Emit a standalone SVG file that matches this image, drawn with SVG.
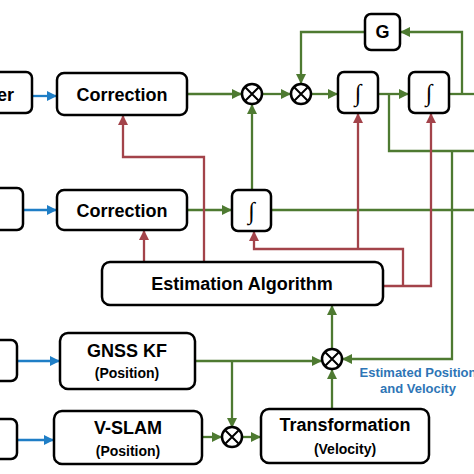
<svg xmlns="http://www.w3.org/2000/svg" width="474" height="474" viewBox="0 0 474 474">
<defs>
<marker id="ag" markerWidth="10" markerHeight="10" refX="9" refY="5" orient="auto" markerUnits="userSpaceOnUse"><path d="M0,0 L10,5 L0,10 Z" fill="#4E7A31"/></marker>
<marker id="ar" markerWidth="10" markerHeight="10" refX="9" refY="5" orient="auto" markerUnits="userSpaceOnUse"><path d="M0,0 L10,5 L0,10 Z" fill="#A3434A"/></marker>
<marker id="ab" markerWidth="10" markerHeight="10" refX="9" refY="5" orient="auto" markerUnits="userSpaceOnUse"><path d="M0,0 L10,5 L0,10 Z" fill="#1F7EC6"/></marker>
</defs>
<style>
.box{fill:#fff;stroke:#000;stroke-width:2.5}
.t{font-family:"Liberation Sans",Arial,sans-serif;font-weight:bold;font-size:18px;fill:#000;text-anchor:middle}
.s{font-family:"Liberation Sans",Arial,sans-serif;font-weight:bold;font-size:14px;fill:#000;text-anchor:middle}
.int{font-family:"Liberation Serif","Times New Roman",serif;font-size:24px;fill:#000;text-anchor:middle}
.g{fill:none;stroke:#4E7A31;stroke-width:2.3}
.r{fill:none;stroke:#A3434A;stroke-width:2.3}
.b{fill:none;stroke:#1F7EC6;stroke-width:2.3}
.mul{fill:#fff;stroke:#000;stroke-width:2.5}
.x{stroke:#000;stroke-width:2}
.lbl{font-family:"Liberation Sans",Arial,sans-serif;font-weight:bold;font-size:13px;fill:#2E75B6;text-anchor:middle}
</style>
<g id="connectors">
<path class="b" d="M32,96 H56" marker-end="url(#ab)"/>
<path class="b" d="M23,210 H56" marker-end="url(#ab)"/>
<path class="b" d="M17,361 H59" marker-end="url(#ab)"/>
<path class="b" d="M17,440 H53" marker-end="url(#ab)"/>
<path class="g" d="M187,94 H241" marker-end="url(#ag)"/>
<path class="g" d="M262,94 H290" marker-end="url(#ag)"/>
<path class="g" d="M311,94 H337" marker-end="url(#ag)"/>
<path class="g" d="M378,94 H408" marker-end="url(#ag)"/>
<path class="g" d="M449,94 H474"/>
<path class="g" d="M462,94 V32 H401" marker-end="url(#ag)"/>
<path class="g" d="M365,32 H301 V83" marker-end="url(#ag)"/>
<path class="g" d="M389,94 V151 H474"/>
<path class="g" d="M452,151 V359 H343" marker-end="url(#ag)"/>
<path class="g" d="M187,210 H231" marker-end="url(#ag)"/>
<path class="g" d="M271,210 H474"/>
<path class="g" d="M252,190 V105" marker-end="url(#ag)"/>
<path class="g" d="M195,361 H321" marker-end="url(#ag)"/>
<path class="g" d="M232,361 V427" marker-end="url(#ag)"/>
<path class="g" d="M202,437 H221" marker-end="url(#ag)"/>
<path class="g" d="M243,437 H260" marker-end="url(#ag)"/>
<path class="g" d="M332,409 V370" marker-end="url(#ag)"/>
<path class="g" d="M332,349 V306" marker-end="url(#ag)"/>
<path class="r" d="M204,262 V157 H123 V116" marker-end="url(#ar)"/>
<path class="r" d="M144,262 V231" marker-end="url(#ar)"/>
<path class="r" d="M383,286 H431 V114" marker-end="url(#ar)"/>
<path class="r" d="M403,286 V249 H254 V232" marker-end="url(#ar)"/>
<path class="r" d="M358,249 V114" marker-end="url(#ar)"/>
</g>
<g id="sensor1"><rect class="box" x="-20" y="72" width="52" height="41" rx="6"/><text class="t" x="14" y="101" style="text-anchor:end">er</text></g>
<g id="sensor2"><rect class="box" x="-20" y="188" width="43" height="42" rx="6"/></g>
<g id="sensor3"><rect class="box" x="-20" y="340" width="37" height="41" rx="6"/></g>
<g id="sensor4"><rect class="box" x="-20" y="419" width="37" height="40" rx="6"/></g>
<g id="correction1"><rect class="box" x="57" y="73" width="130" height="42" rx="7"/><text class="t" x="122" y="101">Correction</text></g>
<g id="correction2"><rect class="box" x="57" y="190" width="130" height="40" rx="7"/><text class="t" x="122" y="217">Correction</text></g>
<g id="mul1"><circle class="mul" cx="252" cy="94" r="10"/><path class="x" d="M245,87 L259,101 M259,87 L245,101"/></g>
<g id="mul2"><circle class="mul" cx="301" cy="94" r="10"/><path class="x" d="M294,87 L308,101 M308,87 L294,101"/></g>
<g id="int1"><rect class="box" x="338" y="72" width="40" height="41" rx="6"/><text class="int" x="358" y="101">∫</text></g>
<g id="int2"><rect class="box" x="409" y="72" width="40" height="41" rx="6"/><text class="int" x="429" y="101">∫</text></g>
<g id="gain"><rect class="box" x="365" y="14" width="35" height="36" rx="6"/><text class="t" x="382.5" y="38">G</text></g>
<g id="int3"><rect class="box" x="232" y="190" width="39" height="41" rx="6"/><text class="int" x="251.5" y="219">∫</text></g>
<g id="estimation"><rect class="box" x="102" y="262" width="281" height="43" rx="8"/><text class="t" x="242" y="290">Estimation Algorithm</text></g>
<g id="gnss"><rect class="box" x="60" y="333" width="135" height="56" rx="8"/><text class="t" x="127" y="357">GNSS KF</text><text class="s" x="127" y="378">(Position)</text></g>
<g id="vslam"><rect class="box" x="54" y="411" width="148" height="53" rx="8"/><text class="t" x="128" y="434">V-SLAM</text><text class="s" x="128" y="456">(Position)</text></g>
<g id="mul4"><circle class="mul" cx="332" cy="359" r="10"/><path class="x" d="M325,352 L339,366 M339,352 L325,366"/></g>
<g id="mul5"><circle class="mul" cx="232" cy="437" r="10"/><path class="x" d="M225,430 L239,444 M239,430 L225,444"/></g>
<g id="transformation"><rect class="box" x="261" y="409" width="168" height="54" rx="8"/><text class="t" x="345" y="431">Transformation</text><text class="s" x="345" y="454">(Velocity)</text></g>
<g id="label"><text class="lbl" x="418" y="377">Estimated Position</text><text class="lbl" x="418" y="393">and Velocity</text></g>
</svg>
